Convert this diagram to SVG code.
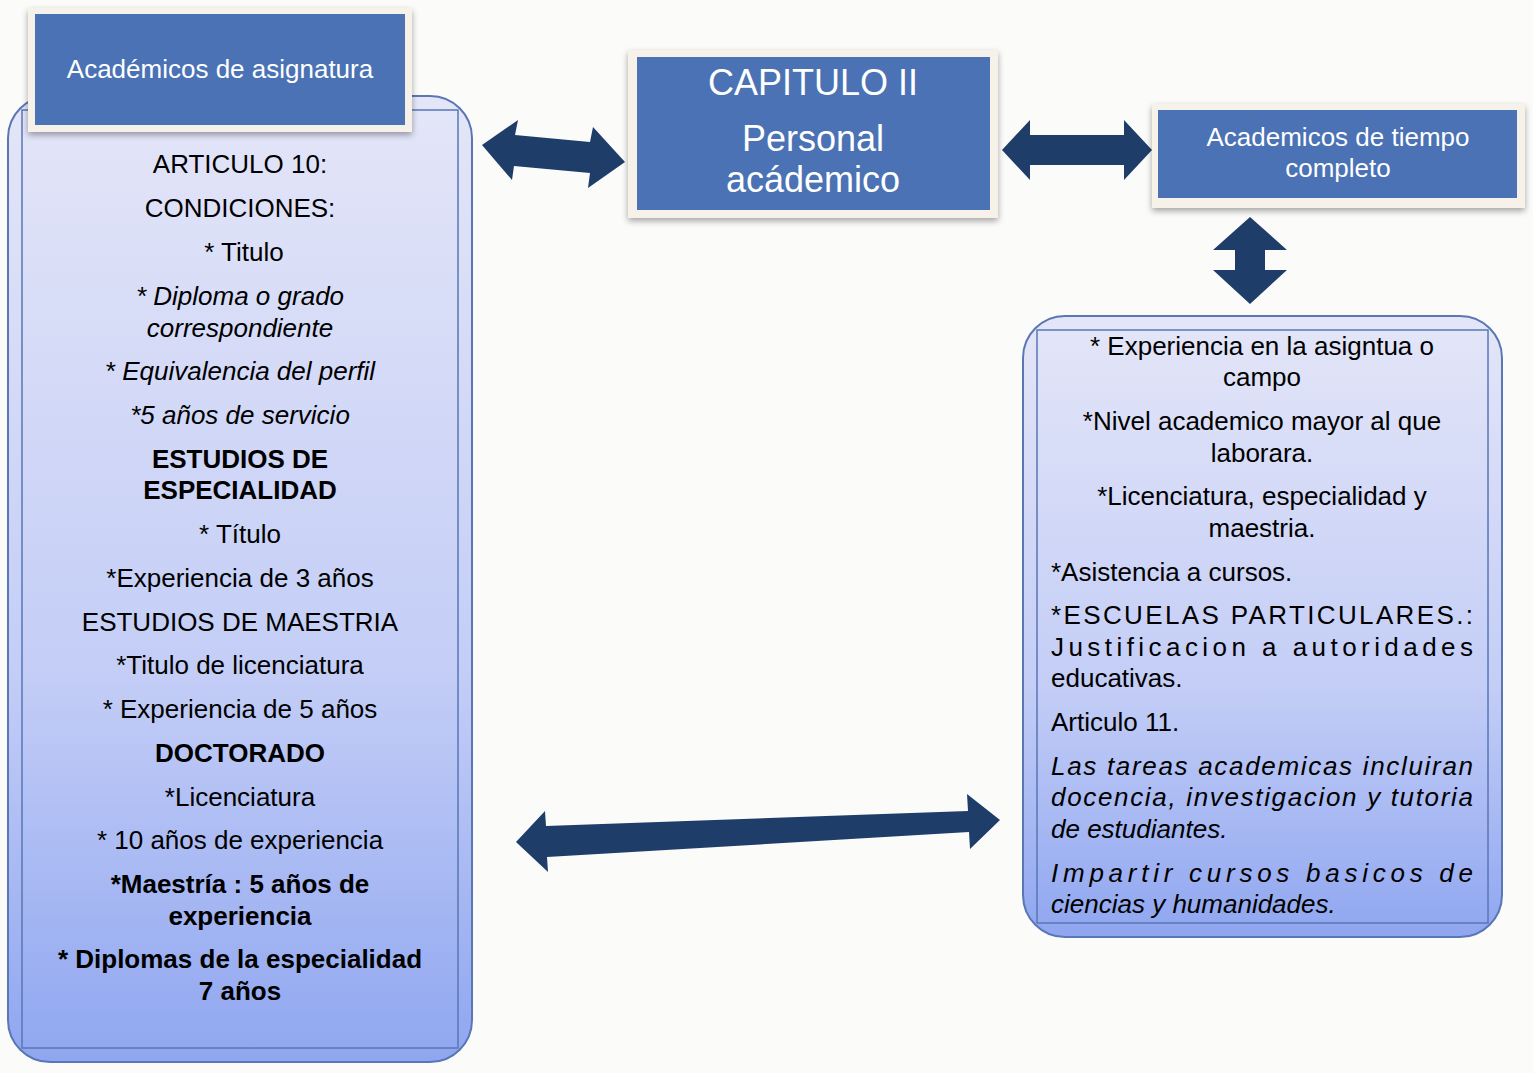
<svg xmlns="http://www.w3.org/2000/svg" width="1533" height="1073" viewBox="0 0 1533 1073">
<defs>
<linearGradient id="g" x1="0" y1="0" x2="0" y2="1"><stop offset="0" stop-color="#e4e6f8"/><stop offset="0.6" stop-color="#c3cdf6"/><stop offset="1" stop-color="#8fa6f0"/></linearGradient>
<filter id="sh" x="-10%" y="-10%" width="120%" height="130%"><feDropShadow dx="0" dy="3" stdDeviation="3" flood-color="#000" flood-opacity="0.35"/></filter>
</defs>
<style>
text{font-family:"Liberation Sans",Arial,sans-serif;fill:#000}
.c{text-anchor:middle;font-size:26px}
.w{fill:#fff;text-anchor:middle}
.r{font-size:26px}
.i{font-style:italic}.b{font-weight:bold}
.frame{fill:#f6f2ea;filter:url(#sh)}
.blue{fill:#4a72b4}
.rb{fill:url(#g);stroke:#5a77b5;stroke-width:2}
.in{fill:none;stroke:#5a77b5;stroke-width:1.5}
.ar{fill:#1f3d69}
</style>
<rect width="1533" height="1073" fill="#fbfbfa"/>
<g id="connectors">
<polygon class="ar" points="482,145 518,120 515,135 590,142 593,127 625,162 588,188 590,173 514,166 512,180"/>
<polygon class="ar" points="1002,150 1030,120 1030,135 1124,135 1124,120 1152,150 1124,180 1124,165 1030,165 1030,180"/>
<polygon class="ar" points="1250,217 1287,250 1265,250 1265,270 1287,270 1250,304 1213,270 1235,270 1235,250 1213,250"/>
<polygon class="ar" points="516,842 545,811 546,826 968,811 967,794 1000,820 970,849 969,832 547,857 548,872"/>
</g>
<g id="left-box">
<rect class="rb" x="8" y="96" width="464" height="966" rx="42"/>
<rect class="in" x="22" y="110" width="436" height="938"/>
<text class="c" x="240" y="173">ARTICULO 10:</text>
<text class="c" x="240" y="217">CONDICIONES:</text>
<text class="c" x="244" y="261">* Titulo</text>
<text class="c i" x="240" y="305">* Diploma o grado</text>
<text class="c i" x="240" y="337">correspondiente</text>
<text class="c i" x="240" y="380">* Equivalencia del perfil</text>
<text class="c i" x="240" y="424">*5 años de servicio</text>
<text class="c b" x="240" y="468">ESTUDIOS DE</text>
<text class="c b" x="240" y="499">ESPECIALIDAD</text>
<text class="c" x="240" y="543">* Título</text>
<text class="c" x="240" y="587">*Experiencia de 3 años</text>
<text class="c" x="240" y="631">ESTUDIOS DE MAESTRIA</text>
<text class="c" x="240" y="674">*Titulo de licenciatura</text>
<text class="c" x="240" y="718">* Experiencia de 5 años</text>
<text class="c b" x="240" y="762">DOCTORADO</text>
<text class="c" x="240" y="806">*Licenciatura</text>
<text class="c" x="240" y="849">* 10 años de experiencia</text>
<text class="c b" x="240" y="893">*Maestría : 5 años de</text>
<text class="c b" x="240" y="925">experiencia</text>
<text class="c b" x="240" y="968">* Diplomas de la especialidad</text>
<text class="c b" x="240" y="1000">7 años</text>
</g>
<g id="asignatura">
<rect class="frame" x="28" y="8" width="384" height="124"/>
<rect class="blue" x="35" y="14" width="370" height="111"/>
<text class="w" x="220" y="78" font-size="26">Académicos de asignatura</text>
</g>
<g id="capitulo">
<rect class="frame" x="628" y="50" width="370" height="168"/>
<rect class="blue" x="637" y="57" width="353" height="153"/>
<text class="w" x="813" y="95" font-size="36">CAPITULO II</text>
<text class="w" x="813" y="151" font-size="36">Personal</text>
<text class="w" x="813" y="192" font-size="36">acádemico</text>
</g>
<g id="tiempo">
<rect class="frame" x="1152" y="104" width="373" height="104"/>
<rect class="blue" x="1158" y="110" width="359" height="88"/>
<text class="w" x="1338" y="146" font-size="26">Academicos de tiempo</text>
<text class="w" x="1338" y="177" font-size="26">completo</text>
</g>
<g id="right-box">
<rect class="rb" x="1023" y="316" width="479" height="621" rx="42"/>
<rect class="in" x="1037" y="330" width="451" height="593"/>
<text class="c" x="1262" y="355">* Experiencia en la asigntua o</text>
<text class="c" x="1262" y="386">campo</text>
<text class="c" x="1262" y="430">*Nivel academico mayor al que</text>
<text class="c" x="1262" y="462">laborara.</text>
<text class="c" x="1262" y="505">*Licenciatura, especialidad y</text>
<text class="c" x="1262" y="537">maestria.</text>
<text class="r" x="1051" y="581">*Asistencia a cursos.</text>
<text class="r" x="1051" y="624" textLength="422" lengthAdjust="spacing">*ESCUELAS  PARTICULARES.:</text>
<text class="r" x="1051" y="656" textLength="422" lengthAdjust="spacing">Justificacion    a    autoridades</text>
<text class="r" x="1051" y="687">educativas.</text>
<text class="r" x="1051" y="731">Articulo  11.</text>
<text class="r i" x="1051" y="775" textLength="422" lengthAdjust="spacing">Las tareas academicas incluiran</text>
<text class="r i" x="1051" y="806" textLength="422" lengthAdjust="spacing">docencia, investigacion y tutoria</text>
<text class="r i" x="1051" y="838">de estudiantes.</text>
<text class="r i" x="1051" y="882" textLength="422" lengthAdjust="spacing">Impartir  cursos  basicos  de</text>
<text class="r i" x="1051" y="913">ciencias y humanidades.</text>
</g>
</svg>
